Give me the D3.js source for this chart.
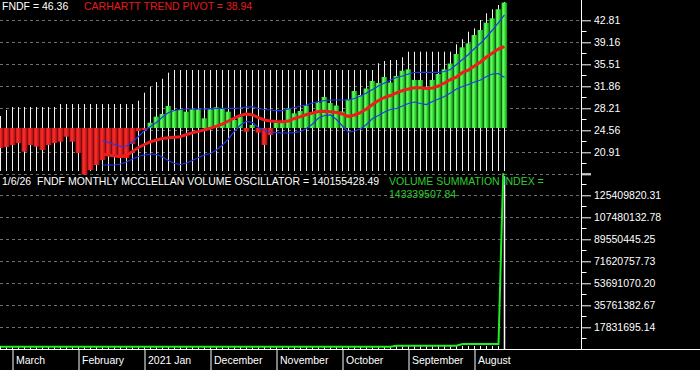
<!DOCTYPE html>
<html>
<head>
<meta charset="utf-8">
<script src="https://cdn.jsdelivr.net/npm/d3@7"></script>
<style>
    html, body { margin: 0; padding: 0; background: #000; }
    svg { display: block; }
    text { font-family: "Liberation Sans", Arial, sans-serif; font-size: 10.5px; }
</style>
</head>
<body>
<div id="chart"></div>
<script>
// ===========================================
// DATA (monthly bars, oldest on the left)
// ===========================================

// close of each bar, drawn as histogram from histBase
const closes = [
    21.62, 21.79, 22.12, 22.45, 21.01, 22.12, 21.84, 21.29, 22.12, 22.45,
    22.67, 23.50, 22.67, 20.79, 17.20, 17.97, 18.80, 19.63, 20.30, 20.46,
    19.96, 19.96, 22.29, 24.44, 24.61, 25.82, 26.82, 27.26, 28.59, 27.93,
    27.93, 27.65, 28.04, 28.04, 26.55, 28.04, 28.38, 28.21, 27.65, 26.27,
    26.82, 24.33, 25.44, 24.16, 22.12, 23.78, 25.82, 25.99, 28.21, 27.38,
    27.76, 28.67, 27.48, 29.17, 30.08, 29.09, 28.67, 27.68, 29.67, 31.08,
    30.42, 31.49, 32.74, 32.41, 33.40, 32.49, 33.57, 34.45, 34.68, 32.91,
    32.91, 31.79, 32.91, 33.90, 34.68, 35.64, 37.22, 38.33, 38.99, 40.37,
    41.20, 42.41, 43.14, 44.64, 45.75
];

// top of the white range lines
const highs = [
    26.93, 27.93, 28.43, 28.43, 28.43, 28.43, 28.43, 28.43, 28.43, 28.43,
    28.92, 28.92, 28.92, 28.92, 28.92, 28.92, 28.92, 28.92, 28.92, 28.92,
    28.92, 28.92, 28.92, 29.47, 30.80, 31.79, 32.57, 33.12, 34.12, 34.56,
    34.56, 34.56, 34.56, 34.56, 34.56, 34.56, 34.56, 34.56, 34.56, 34.56,
    34.56, 34.56, 34.56, 34.56, 34.56, 34.56, 34.56, 34.56, 34.56, 34.56,
    34.56, 34.56, 34.56, 34.56, 34.56, 34.56, 34.56, 34.56, 34.56, 34.56,
    34.56, 34.56, 34.56, 35.68, 36.06, 36.22, 36.22, 36.67, 37.60, 37.60,
    37.60, 37.60, 37.60, 37.60, 37.60, 37.60, 38.83, 39.66, 40.92, 41.48,
    42.86, 43.97, 44.64, 45.35, 45.85
];
const barFloor = 17.81;   // white lines start here
const histBase = 24.94;   // histogram zero line

// the three overlay lines start at bar 17
const lineStart = 17;
const pivot = [
    20.63, 20.46, 20.30, 20.21, 20.38, 21.04, 21.71, 22.20, 22.67, 22.95,
    23.20, 23.32, 23.41, 23.50, 23.86, 24.15, 24.38, 24.64, 24.91, 25.24,
    25.60, 26.10, 26.60, 27.02, 27.26, 27.10, 26.68, 26.27, 26.10, 26.02,
    25.99, 26.10, 26.52, 26.82, 27.18, 27.43, 27.68, 27.73, 27.65, 27.51,
    27.26, 26.85, 27.10, 27.51, 28.09, 28.84, 29.50, 30.00, 30.33, 30.75,
    31.16, 31.41, 31.61, 31.61, 31.49, 31.58, 31.91, 32.41, 32.99, 33.40,
    34.15, 34.56, 35.23, 35.89, 36.72, 37.38, 38.05, 38.43
];
const upperBand = [
    22.87, 22.54, 22.20, 21.87, 21.95, 22.62, 23.53, 24.53, 25.19, 25.85,
    26.77, 27.51, 27.84, 28.01, 28.09, 28.09, 28.09, 28.09, 28.14, 28.18,
    28.21, 28.21, 28.21, 28.26, 28.43, 28.43, 28.18, 28.01, 27.93, 27.84,
    27.84, 28.09, 28.34, 28.59, 28.76, 29.09, 29.34, 29.47, 29.59, 29.59,
    29.59, 29.62, 29.84, 30.25, 30.75, 31.33, 31.91, 32.41, 32.91, 33.32,
    33.57, 33.90, 34.15, 34.18, 34.18, 34.18, 34.18, 34.32, 34.65, 35.48,
    36.31, 37.14, 38.13, 38.99, 40.04, 41.20, 42.44, 43.69
];
const lowerBand = [
    18.80, 18.80, 18.80, 18.97, 19.30, 19.80, 20.21, 20.46, 20.63, 20.54,
    20.13, 19.55, 19.05, 18.89, 19.13, 19.55, 20.05, 20.46, 20.71, 21.29,
    22.12, 23.12, 24.44, 25.44, 26.02, 25.85, 25.02, 24.53, 24.28, 24.19,
    24.11, 24.11, 24.16, 24.36, 24.86, 25.60, 26.60, 27.02, 27.10, 26.35,
    25.27, 24.28, 24.44, 24.78, 25.52, 26.52, 27.02, 27.60, 28.01, 28.18,
    28.59, 29.01, 29.25, 29.01, 28.84, 29.34, 29.75, 30.17, 30.75, 31.41,
    31.83, 32.16, 32.57, 32.91, 33.49, 33.90, 33.98, 33.32
];

// volume summation index, vertices
const vsiIndex  = [0, 65, 66, 76, 77, 83, 83.25, 83.5, 83.8];
const vsiValues = [2020000, 2020000, 2830000, 2830000, 4220000, 4220000, 48200000, 94700000, 143339507.84];

// axis ticks
const priceTicks  = [42.81, 39.16, 35.51, 31.86, 28.21, 24.56, 20.91, 17.26];
const priceLabels = ["42.81", "39.16", "35.51", "31.86", "28.21", "24.56", "20.91", ""];
const vsiTicks  = [143339507.84, 125409820.31, 107480132.78, 89550445.25, 71620757.73, 53691070.20, 35761382.67, 17831695.14];
const vsiLabels = ["", "125409820.31", "107480132.78", "89550445.25", "71620757.73", "53691070.20", "35761382.67", "17831695.14"];

const monthIdx    = [2, 13, 24, 35, 46, 57, 68, 79];
const monthLabels = ["March", "February", "2021 Jan", "December", "November", "October", "September", "August"];

// header texts
const priceTitle  = "FNDF = 46.36";
const pivotTitle  = "CARHARTT TREND PIVOT = 38.94";
const oscTitle    = "1/6/26  FNDF MONTHLY MCCLELLAN VOLUME OSCILLATOR = 140155428.49";
const vsiTitle    = "VOLUME SUMMATION INDEX =";
const vsiValueTxt = "143339507.84";

// ===========================================
// RENDER
// ===========================================
function renderChart() {
    const width = 700;
    const height = 370;
    const axisX = 581.5;
    const plotBottom = 349.5;

    const svg = d3.select("#chart")
        .append("svg")
        .attr("width", width)
        .attr("height", height)
        .style("background", "#000");

    const x = d3.scaleLinear().domain([0, closes.length - 1]).range([0.5, 504.5]);
    const yTop = d3.scaleLinear().domain([17.26, 42.81]).range([174.3, 20.3]);
    const yBot = d3.scaleLinear().domain([-97992.39, 143339507.84]).range([349.3, 173.3]);

    // bar shading
    const defs = svg.append("defs");
    function addGradient(id, stops) {
        const lg = defs.append("linearGradient").attr("id", id)
            .attr("x1", 0).attr("x2", 1).attr("y1", 0).attr("y2", 0);
        stops.forEach(s => lg.append("stop").attr("offset", s[0]).attr("stop-color", s[1]));
    }
    addGradient("gBar", [[0, "#27b527"], [0.3, "#66ff66"], [0.65, "#33dd33"], [1, "#0f7f0f"]]);
    addGradient("rBar", [[0, "#b81414"], [0.4, "#ff2e2e"], [1, "#a00a0a"]]);

    // --------------------
    // GRID
    // --------------------
    const grid = svg.append("g").attr("stroke", "#6e6e6e").attr("stroke-dasharray", "3,3");
    grid.selectAll("line.pg")
        .data(priceTicks)
        .enter().append("line")
        .attr("class", "pg")
        .attr("x1", 0).attr("x2", axisX)
        .attr("y1", d => Math.round(yTop(d)) + 0.5)
        .attr("y2", d => Math.round(yTop(d)) + 0.5);
    grid.selectAll("line.vg")
        .data(vsiTicks.slice(1))
        .enter().append("line")
        .attr("class", "vg")
        .attr("x1", 0).attr("x2", axisX)
        .attr("y1", d => Math.round(yBot(d)) + 0.5)
        .attr("y2", d => Math.round(yBot(d)) + 0.5);

    // --------------------
    // PRICE PANEL
    // --------------------
    svg.append("g").selectAll("line")
        .data(highs)
        .enter().append("line")
        .attr("x1", (d, i) => x(i)).attr("x2", (d, i) => x(i))
        .attr("y1", yTop(barFloor))
        .attr("y2", d => yTop(d))
        .attr("stroke", "#f2f2f2")
        .attr("stroke-width", 1);

    svg.append("g").selectAll("rect")
        .data(closes)
        .enter().append("rect")
        .attr("x", (d, i) => x(i) - 3)
        .attr("width", (d) => d >= histBase ? 5.6 : 6)
        .attr("y", d => yTop(Math.max(d, histBase)))
        .attr("height", d => Math.abs(yTop(d) - yTop(histBase)))
        .attr("fill", d => d >= histBase ? "url(#gBar)" : "url(#rBar)");

    const line = d3.line()
        .x((d, i) => x(i + lineStart))
        .y(d => yTop(d));

    [upperBand, lowerBand].forEach(band => {
        svg.append("path")
            .datum(band)
            .attr("d", line)
            .attr("fill", "none")
            .attr("stroke", "#2236ee")
            .attr("stroke-width", 1.2);
    });

    svg.append("path")
        .datum(pivot)
        .attr("d", line)
        .attr("fill", "none")
        .attr("stroke", "#ee1c1c")
        .attr("stroke-width", 3)
        .attr("stroke-linejoin", "round");

    // --------------------
    // VOLUME SUMMATION PANEL
    // --------------------
    // bar stubs on the base line
    svg.append("g").selectAll("line")
        .data(closes)
        .enter().append("line")
        .attr("x1", (d, i) => x(i)).attr("x2", (d, i) => x(i))
        .attr("y1", plotBottom - 3.5).attr("y2", plotBottom)
        .attr("stroke", "#fff");

    // cursor on the last bar
    svg.append("line")
        .attr("x1", x(closes.length - 1)).attr("x2", x(closes.length - 1))
        .attr("y1", yBot(vsiValues[vsiValues.length - 1]) + 3)
        .attr("y2", plotBottom)
        .attr("stroke", "#fff")
        .attr("stroke-width", 1.5);

    svg.append("path")
        .datum(vsiValues)
        .attr("d", d3.line().x((d, i) => x(vsiIndex[i])).y(d => yBot(d)))
        .attr("fill", "none")
        .attr("stroke", "#22ee22")
        .attr("stroke-width", 2);

    // --------------------
    // AXES
    // --------------------
    svg.append("line")
        .attr("x1", axisX).attr("x2", axisX)
        .attr("y1", 0).attr("y2", plotBottom)
        .attr("stroke", "#fff");
    svg.append("line")
        .attr("x1", 0).attr("x2", width)
        .attr("y1", plotBottom).attr("y2", plotBottom)
        .attr("stroke", "#fff");

    function styleAxis(g) {
        g.select(".domain").remove();
        g.selectAll("line").attr("stroke", "#fff");
        g.selectAll("text").attr("fill", "#fff");
    }

    svg.append("g")
        .attr("transform", `translate(${axisX - 0.5},0)`)
        .call(d3.axisRight(yTop)
            .tickValues(priceTicks)
            .tickSize(10).tickSizeOuter(0).tickPadding(3)
            .tickFormat((d, i) => priceLabels[i]))
        .call(styleAxis);

    svg.append("g")
        .attr("transform", `translate(${axisX - 0.5},0)`)
        .call(d3.axisRight(yBot)
            .tickValues(vsiTicks)
            .tickSize(10).tickSizeOuter(0).tickPadding(3)
            .tickFormat((d, i) => vsiLabels[i]))
        .call(styleAxis);

    // minor ticks half way between the labelled ones
    const minorTop = d3.pairs(priceTicks).map(p => (yTop(p[0]) + yTop(p[1])) / 2);
    const minorBot = d3.pairs(vsiTicks.concat([yBot.domain()[0]])).map(p => (yBot(p[0]) + yBot(p[1])) / 2);
    svg.append("g").selectAll("line")
        .data(minorTop.concat(minorBot))
        .enter().append("line")
        .attr("x1", axisX).attr("x2", axisX + 5)
        .attr("y1", d => Math.round(d) + 0.5)
        .attr("y2", d => Math.round(d) + 0.5)
        .attr("stroke", "#fff");

    // month axis, labels sit to the right of each separator
    svg.append("g")
        .attr("transform", `translate(0,${plotBottom})`)
        .call(d3.axisBottom(x)
            .tickValues(monthIdx)
            .tickSize(21).tickSizeOuter(0)
            .tickFormat((d, i) => monthLabels[i]))
        .call(styleAxis)
        .call(g => g.selectAll("text")
            .attr("text-anchor", "start")
            .attr("x", 3).attr("y", 14.5).attr("dy", 0));

    // --------------------
    // TITLES
    // --------------------
    const titles = [
        { t: priceTitle,  x: 2,   y: 10,  c: "#ffffff" },
        { t: pivotTitle,  x: 84,  y: 10,  c: "#e41b1b" },
        { t: oscTitle,    x: 2,   y: 185, c: "#ffffff" },
        { t: vsiTitle,    x: 389, y: 185, c: "#2fcc2f" },
        { t: vsiValueTxt, x: 389, y: 197.5, c: "#2fcc2f" }
    ];
    svg.append("g").selectAll("text")
        .data(titles)
        .enter().append("text")
        .attr("x", d => d.x).attr("y", d => d.y)
        .attr("fill", d => d.c)
        .style("white-space", "pre")
        .text(d => d.t);
}

renderChart();
</script>
</body>
</html>
